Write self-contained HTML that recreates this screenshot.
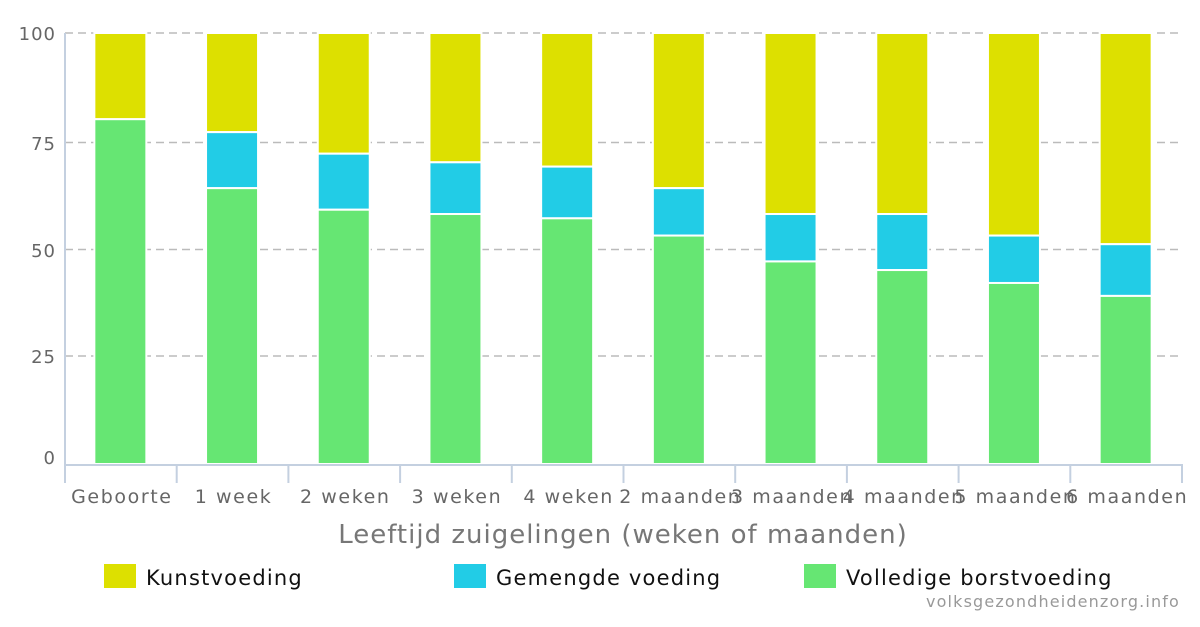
<!DOCTYPE html>
<html><head><meta charset="utf-8"><style>body{margin:0;background:#fff}svg{display:block;font-family:"DejaVu Sans","Liberation Sans",sans-serif}</style></head>
<body>
<svg width="1200" height="627" viewBox="0 0 1200 627" xmlns="http://www.w3.org/2000/svg">
<g stroke="#bbb" stroke-width="1.5" stroke-dasharray="8,5">
<line x1="65" x2="1182" y1="33" y2="33"/><line x1="65" x2="1182" y1="142.5" y2="142.5"/><line x1="65" x2="1182" y1="249.5" y2="249.5"/><line x1="65" x2="1182" y1="356" y2="356"/>
</g>
<g fill="#666" font-size="18" text-anchor="end" letter-spacing="1">
<text x="56" y="40">100</text><text x="56" y="150">75</text><text x="56" y="257">50</text><text x="56" y="363">25</text><text x="56" y="464">0</text>
</g>
<g id="bars" stroke="#fff" stroke-width="2"></g>
<g stroke="#c4d0e0" stroke-width="2">
<line x1="65" x2="65" y1="33" y2="483"/><line x1="64" x2="1183" y1="465" y2="465"/>
</g>
<g id="ticks" stroke="#c4d0e0" stroke-width="2"></g>
<g id="labels" fill="#666" font-size="19" text-anchor="middle" letter-spacing="1.6"></g>
<text x="623" y="543" fill="#777" font-size="26" text-anchor="middle" letter-spacing="1">Leeftijd zuigelingen (weken of maanden)</text>
<g font-size="21" fill="#111" letter-spacing="1.2">
<rect x="104" y="564" width="32" height="24" fill="#dde000"/><text x="146" y="585">Kunstvoeding</text>
<rect x="454" y="564" width="32" height="24" fill="#22cce6"/><text x="496" y="585">Gemengde voeding</text>
<rect x="804" y="564" width="32" height="24" fill="#66e673"/><text x="846" y="585">Volledige borstvoeding</text>
</g>
<text x="1180" y="607" fill="#999" font-size="16" text-anchor="end" letter-spacing="1.15">volksgezondheidenzorg.info</text>
</svg>
<script>
var g=[80,64,59,58,57,53,47,45,42,39],b=[80,77,72,70,69,64,58,58,53,51];
var L=["Geboorte","1 week","2 weken","3 weken","4 weken","2 maanden","3 maanden","4 maanden","5 maanden","6 maanden"];
var ns="http://www.w3.org/2000/svg",w=111.7,y=function(v){return 464-v*4.31};
function el(p,t,a,txt){var e=document.createElementNS(ns,t);for(var k in a)e.setAttribute(k,a[k]);if(txt)e.textContent=txt;document.getElementById(p).appendChild(e);}
for(var i=0;i<10;i++){var c=65+w*(i+0.5),x=c-26.5;
el("bars","rect",{x:x,y:y(100),width:52,height:y(b[i])-y(100),fill:"#dde000"});
if(b[i]>g[i])el("bars","rect",{x:x,y:y(b[i]),width:52,height:y(g[i])-y(b[i]),fill:"#22cce6"});
el("bars","rect",{x:x,y:y(g[i]),width:52,height:464-y(g[i]),fill:"#66e673"});
el("labels","text",{x:c+1,y:503},L[i]);
el("ticks","line",{x1:65+w*(i+1),x2:65+w*(i+1),y1:465,y2:483});}
</script>
</body></html>
